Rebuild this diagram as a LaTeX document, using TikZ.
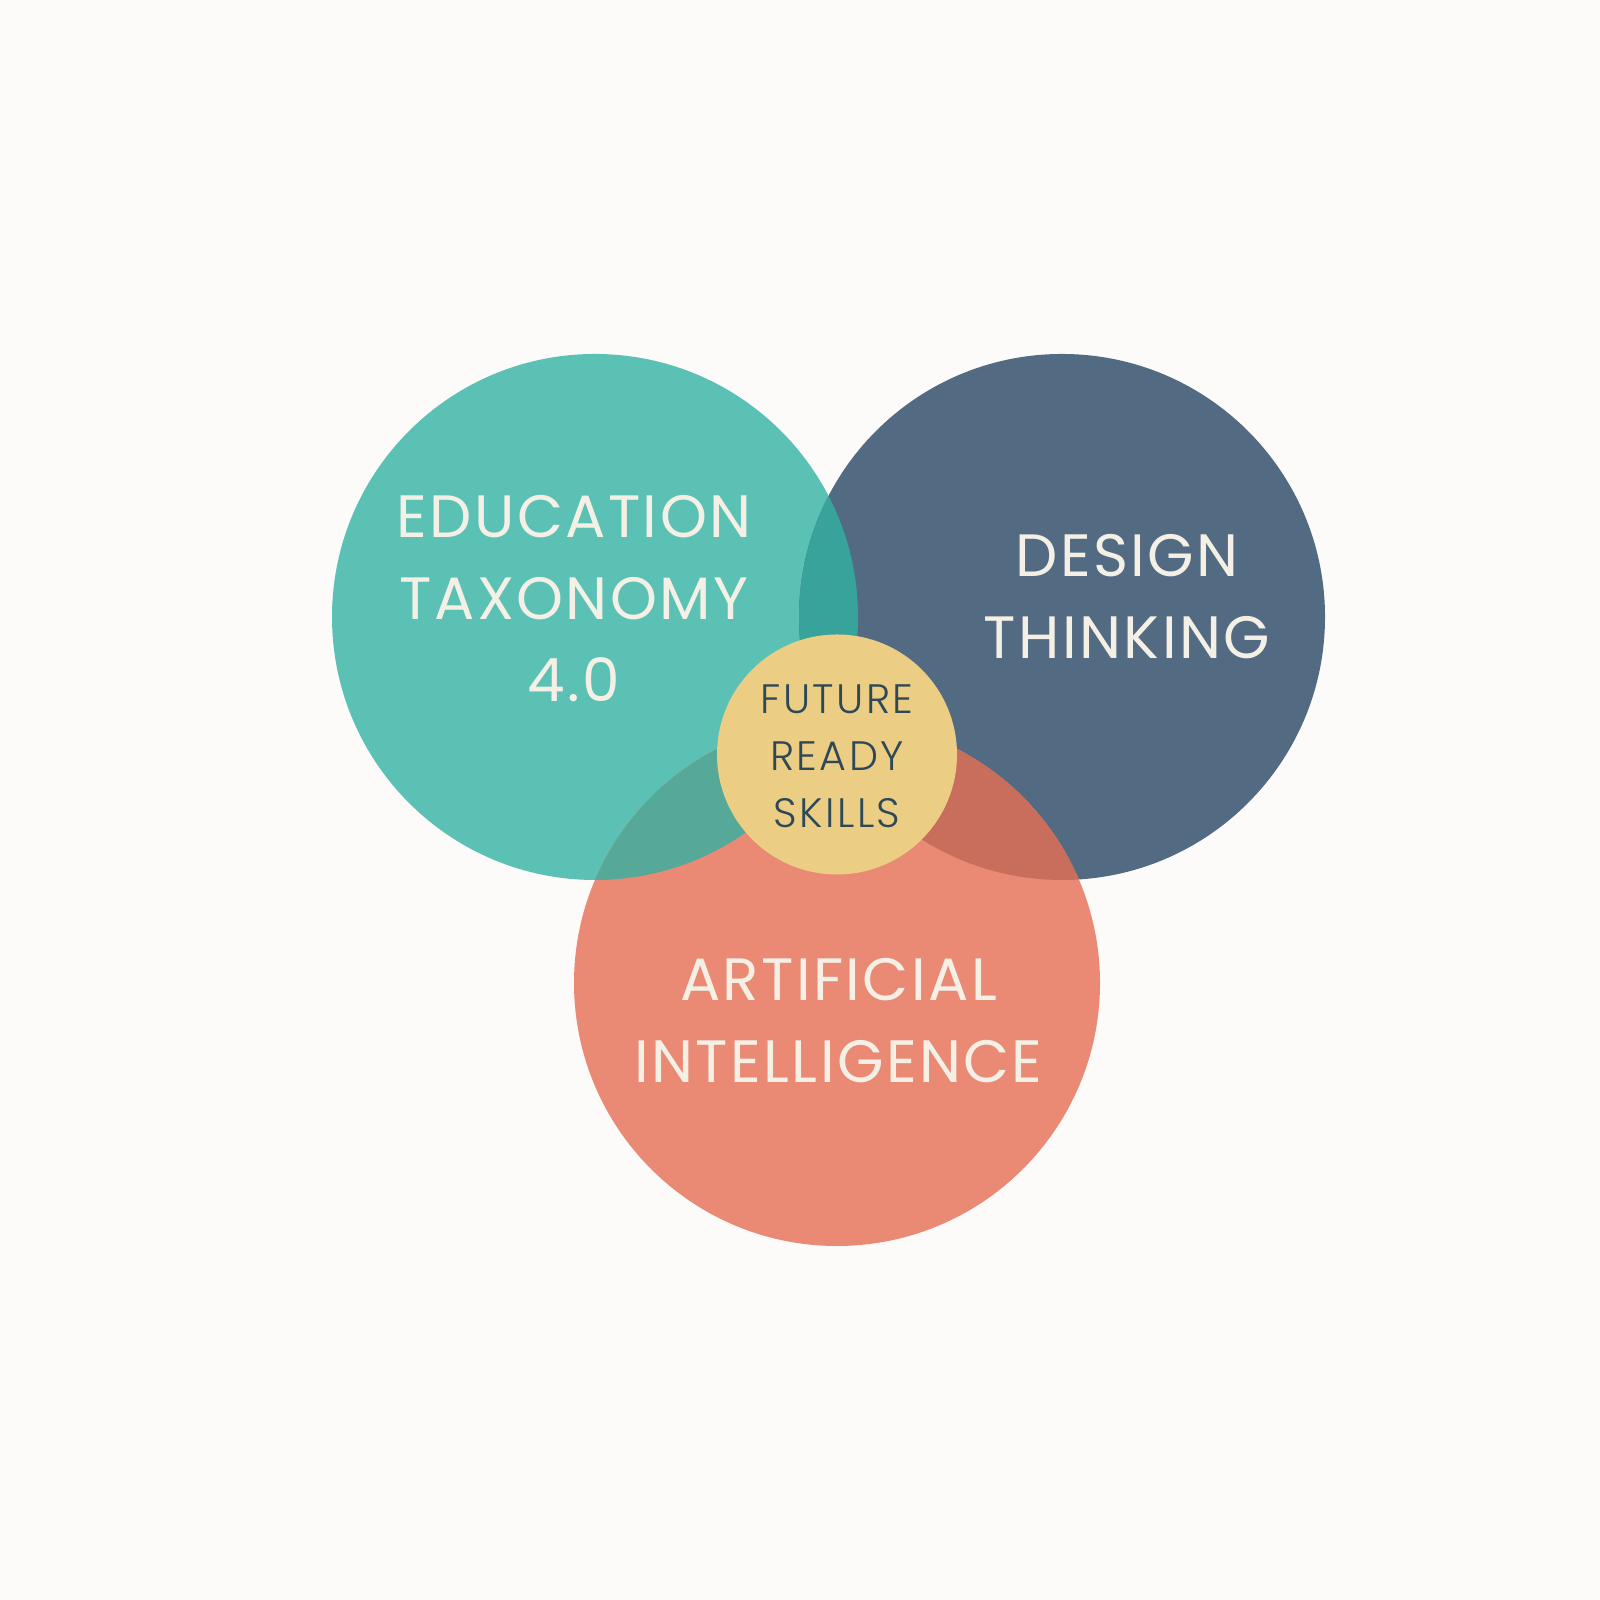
\documentclass[tikz,border=0pt]{standalone}
\usepackage{fontspec}
\setmainfont{Poppins}
\newfontfamily\vennfont[LetterSpace=4]{Poppins}
\newfontfamily\skillfont[LetterSpace=6,UprightFont=* Light]{Poppins}
\definecolor{bgcol}{HTML}{FCFBF9}
\definecolor{educol}{HTML}{5BC1B5}
\definecolor{dtcol}{HTML}{526A82}
\definecolor{aicol}{HTML}{EB8A74}
\definecolor{skillcol}{HTML}{EBCD84}
\definecolor{edudtcol}{HTML}{38A39A}
\definecolor{eduaicol}{HTML}{56A898}
\definecolor{dtaicol}{HTML}{C96E5C}
\definecolor{creamcol}{HTML}{F5F0E6}
\definecolor{inkcol}{HTML}{2E4858}
\tikzset{
	bigtext/.style={text=creamcol, align=center, inner sep=0pt, font=\vennfont\fontsize{17}{23.3}\selectfont},
	smalltext/.style={text=inkcol, align=center, inner sep=0pt, font=\skillfont\fontsize{11.7}{16.2}\selectfont}
}
\begin{document}
\begin{tikzpicture}
	\fill[bgcol] (0,0) rectangle (16,16);
	\fill[educol] (5.95, 9.83) circle (2.63);
	\fill[dtcol] (10.62, 9.83) circle (2.63);
	\fill[aicol] (8.37, 6.17) circle (2.63);
	\begin{scope}
		\clip (5.95, 9.83) circle (2.63);
		\fill[edudtcol] (10.62, 9.83) circle (2.63);
		\fill[eduaicol] (8.37, 6.17) circle (2.63);
	\end{scope}
	\begin{scope}
		\clip (10.62, 9.83) circle (2.63);
		\fill[dtaicol] (8.37, 6.17) circle (2.63);
	\end{scope}
	\fill[skillcol] (8.37, 8.455) circle (1.20);
	\node[bigtext] (edu) at (5.74, 10.015) {EDUCATION\\TAXONOMY\\4.0};
	\node[bigtext] (dt) at (11.27, 10.03) {DESIGN\\THINKING};
	\node[bigtext] (ai) at (8.385, 5.79) {ARTIFICIAL\\INTELLIGENCE};
	\node[smalltext] (skills) at (8.37, 8.44) {FUTURE\\READY\\SKILLS};
\end{tikzpicture}
\end{document}
